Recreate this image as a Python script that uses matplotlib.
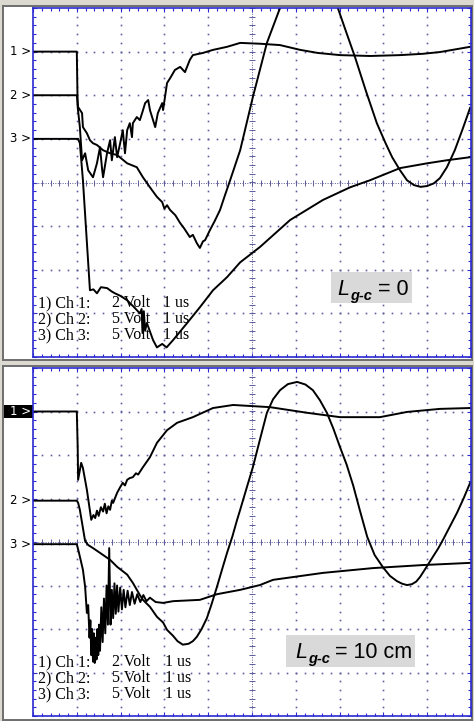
import numpy as np
import matplotlib.pyplot as plt
from matplotlib.patches import Rectangle

# scope traces: (time [us], level [div]); 1 us/div, screen is 10 x 8 div
ch1_top = [(0, 3.0), (1.0, 3.0), (1.02, 1.73), (1.07, 1.27), (1.12, 0.51), (1.19, 0.67), (1.26, 0.28),
           (1.37, 0.12), (1.46, 0.44), (1.53, 0.81), (1.58, 0.28), (1.60, 0.12), (1.69, 0.67), (1.76, 0.97),
           (1.80, 0.51), (1.87, 1.04), (1.92, 0.58), (1.99, 0.90), (2.05, 1.20), (2.10, 0.67), (2.15, 1.20),
           (2.21, 1.36), (2.26, 1.04), (2.28, 1.36), (2.37, 1.50), (2.44, 1.43), (2.50, 1.62), (2.56, 1.82),
           (2.63, 1.89), (2.67, 1.66), (2.79, 1.27), (2.85, 1.59), (2.95, 1.82), (2.97, 1.66), (3.06, 2.28),
           (3.13, 2.39), (3.24, 2.58), (3.36, 2.65), (3.47, 2.53), (3.58, 2.81), (3.65, 2.92), (3.88, 2.97),
           (4.11, 3.04), (4.43, 3.11), (4.73, 3.20), (5.20, 3.18), (5.64, 3.15), (6.10, 3.04), (6.50, 2.97),
           (7.01, 2.92), (7.70, 2.90), (8.38, 2.92), (8.90, 2.95), (9.29, 2.99), (9.98, 3.11)]
ch2_top = [(0, 2.0), (1.0, 2.0), (1.03, 1.73), (1.12, 1.59), (1.14, 1.27), (1.23, 1.13), (1.30, 0.97),
           (1.37, 0.90), (1.46, 0.86), (1.60, 0.74), (1.76, 0.67), (1.92, 0.63), (2.15, 0.44), (2.37, 0.35),
           (2.51, 0.12), (2.67, -0.11), (2.83, -0.33), (2.95, -0.45), (3.0, -0.60), (3.06, -0.52),
           (3.13, -0.63), (3.25, -0.75), (3.36, -0.93), (3.45, -1.05), (3.58, -1.25), (3.65, -1.20),
           (3.74, -1.39), (3.81, -1.50), (3.88, -1.35), (3.93, -1.32), (4.04, -1.09), (4.15, -0.88),
           (4.27, -0.63), (4.38, -0.30), (4.50, 0.05), (4.73, 0.74), (5.02, 1.96), (5.34, 3.20), (5.64, 4.0),
           (5.85, 4.45), (6.05, 4.7), (6.3, 4.78), (6.55, 4.7), (6.78, 4.45), (6.96, 4.0), (7.15, 3.45),
           (7.35, 2.88), (7.60, 2.10), (7.85, 1.36), (8.05, 0.90), (8.20, 0.58), (8.38, 0.28), (8.54, 0.05),
           (8.70, -0.06), (8.85, -0.10), (9.00, -0.08), (9.15, -0.02), (9.29, 0.10), (9.45, 0.35),
           (9.63, 0.74), (9.80, 1.20), (9.98, 1.71)]
ch3_top = [(0, 1.0), (1.03, 1.0), (1.07, 0.9), (1.14, 0.05), (1.30, -2.47), (1.38, -2.45), (1.46, -2.54),
           (1.55, -2.40), (1.69, -2.42), (1.80, -2.50), (1.87, -2.54), (2.0, -2.60), (2.15, -2.70),
           (2.30, -2.85), (2.44, -3.0), (2.48, -2.90), (2.50, -3.45), (2.53, -2.95), (2.56, -3.40),
           (2.60, -3.22), (2.74, -3.61), (2.83, -3.78), (2.95, -3.70), (3.05, -3.78), (3.20, -3.61),
           (3.52, -3.22), (3.81, -2.86), (4.11, -2.47), (4.43, -2.17), (4.73, -1.83), (5.18, -1.48),
           (5.87, -0.86), (6.62, -0.40), (7.24, -0.11), (7.69, 0.05), (8.38, 0.33), (9.0, 0.44),
           (9.45, 0.51), (9.98, 0.58)]

ch1_bot = [(0, 3.0), (1.0, 3.0), (1.02, 2.2), (1.03, 1.43), (1.10, 1.82), (1.14, 1.70), (1.23, 1.20),
           (1.33, 0.51), (1.38, 0.62), (1.42, 0.55), (1.46, 0.72), (1.50, 0.60), (1.55, 0.80), (1.60, 0.70),
           (1.64, 0.88), (1.68, 0.66), (1.72, 0.82), (1.76, 0.74), (1.80, 0.95), (1.83, 0.90), (1.92, 1.13),
           (1.99, 1.26), (2.05, 1.36), (2.10, 1.30), (2.15, 1.43), (2.21, 1.47), (2.28, 1.49), (2.35, 1.58),
           (2.40, 1.55), (2.51, 1.72), (2.67, 1.95), (2.83, 2.28), (3.06, 2.57), (3.29, 2.74), (3.65, 2.87),
           (4.11, 3.08), (4.57, 3.15), (5.41, 3.10), (6.26, 2.97), (7.01, 2.87), (7.92, 2.87), (8.54, 2.99),
           (9.29, 3.06), (9.98, 3.08)]
ch2_bot = [(0, 0.95), (1.0, 0.95), (1.03, 0.90), (1.07, 0.74), (1.19, 0.02), (1.26, -0.07), (1.37, -0.14),
           (1.53, -0.25), (1.76, -0.41), (1.92, -0.57), (2.15, -0.75), (2.28, -0.94), (2.44, -1.22),
           (2.51, -1.33), (2.67, -1.49), (2.83, -1.72), (2.97, -1.85), (3.06, -2.02), (3.20, -2.16),
           (3.30, -2.28), (3.42, -2.36), (3.55, -2.34), (3.65, -2.28), (3.74, -2.18), (3.85, -2.00),
           (3.97, -1.75), (4.08, -1.42), (4.20, -1.03), (4.32, -0.62), (4.43, -0.25), (4.55, 0.12),
           (4.66, 0.51), (4.73, 0.74), (4.88, 1.25), (5.02, 1.72), (5.18, 2.35), (5.34, 2.97), (5.48, 3.28),
           (5.64, 3.49), (5.82, 3.63), (6.03, 3.68), (6.22, 3.62), (6.39, 3.49), (6.55, 3.26), (6.71, 2.97),
           (6.86, 2.60), (7.01, 2.18), (7.16, 1.78), (7.31, 1.30), (7.47, 0.70), (7.63, 0.12), (7.80, -0.30),
           (7.99, -0.58), (8.15, -0.78), (8.31, -0.90), (8.43, -0.96), (8.54, -0.99), (8.65, -0.97),
           (8.75, -0.91), (8.84, -0.80), (8.98, -0.58), (9.13, -0.34), (9.25, -0.15), (9.36, 0.05),
           (9.52, 0.36), (9.68, 0.67), (9.83, 1.00), (9.98, 1.36)]
ch3_bot = [(0, -0.05), (1.0, -0.05), (1.05, -0.25), (1.14, -0.64), (1.19, -1.03), (1.23, -1.63),
           (1.26, -1.45), (1.29, -2.2), (1.31, -1.8), (1.33, -2.6), (1.35, -2.0), (1.37, -2.75), (1.39, -2.1),
           (1.41, -2.78), (1.43, -2.2), (1.45, -2.7), (1.47, -2.0), (1.49, -2.6), (1.51, -1.9), (1.53, -2.5),
           (1.56, -1.5), (1.59, -2.3), (1.62, -1.3), (1.65, -2.1), (1.68, -1.0), (1.71, -1.9), (1.74, -0.14),
           (1.77, -1.9), (1.80, -1.1), (1.83, -1.75), (1.86, -0.95), (1.89, -1.65), (1.92, -1.0), (1.95, -1.6),
           (1.99, -1.05), (2.03, -1.55), (2.07, -1.1), (2.11, -1.5), (2.16, -1.12), (2.21, -1.45), (2.26, -1.15),
           (2.32, -1.42), (2.38, -1.2), (2.45, -1.38), (2.52, -1.22), (2.59, -1.36), (2.67, -1.28),
           (2.80, -1.38), (2.97, -1.40), (3.20, -1.36), (3.81, -1.33), (4.20, -1.20), (4.73, -1.10),
           (5.18, -0.99), (5.48, -0.87), (6.62, -0.71), (7.76, -0.60), (8.90, -0.53), (9.98, -0.48)]

marks_top = [("1", 3.0), ("2", 2.0), ("3", 1.0)]
marks_bot = [("1", 3.0), ("2", 0.95), ("3", -0.05)]
rows = ["1) Ch 1:", "2) Ch 2:", "3) Ch 3:"]
volts = ["2 Volt", "5 Volt", "5 Volt"]
times = ["1 us", "1 us", "1 us"]
gap_labels = ["= 0", "= 10 cm"]

W, H = 474, 721
BLUE = "#2a2ad0"
DOT = "#5c5c9c"


def rect(x0, y0, x1, y1):
    return [x0 / W, 1 - y1 / H, (x1 - x0) / W, (y1 - y0) / H]


def frame(fig, y0, y1):
    a = fig.add_axes(rect(3, y0, 472, y1))
    a.set_xticks([])
    a.set_yticks([])
    for s in a.spines.values():
        s.set_color("#6e6e6e")
        s.set_linewidth(1.4)
    return a


def screen(fig, y0, y1):
    ax = fig.add_axes(rect(33, y0, 471, y1))
    ax.set_xlim(0, 10)
    ax.set_ylim(-4, 4)
    ax.set_xticks(np.arange(0, 11, 1))
    ax.set_yticks(np.arange(-4, 5, 1))
    ax.set_xticks(np.arange(0, 10.01, 0.2), minor=True)
    ax.set_yticks(np.arange(-4, 4.01, 0.2), minor=True)
    ax.tick_params(which="both", direction="in", top=True, right=True,
                   labelbottom=False, labelleft=False, color=BLUE, width=0.8)
    ax.tick_params(which="major", length=3)
    ax.tick_params(which="minor", length=2)
    for s in ax.spines.values():
        s.set_color(BLUE)
        s.set_linewidth(1.2)
    ys = np.arange(-4, 4.01, 0.2)
    xs = np.arange(0, 10.01, 0.2)
    for xi in range(1, 10):
        if xi != 5:
            ax.plot(np.full(len(ys), xi), ys, ls="none", marker="s", ms=1.2, mew=0, color=DOT)
    for yi in range(-3, 4):
        if yi != 0:
            ax.plot(xs, np.full(len(xs), yi), ls="none", marker="s", ms=1.2, mew=0, color=DOT)
    # centre cross with fine ticks
    ax.plot(xs, np.zeros(len(xs)), ls=(0, (1, 1.5)), lw=0.7, color=DOT, marker="|", ms=4, mew=0.7)
    ax.plot(np.full(len(ys), 5), ys, ls=(0, (1, 1.5)), lw=0.7, color=DOT, marker="_", ms=4, mew=0.7)
    return ax


def traces(ax, chans):
    for ch in chans:
        t, v = zip(*ch)
        ax.plot(t, v, color="black", lw=1.4, solid_joinstyle="round")


def markers(ax, marks, highlight=None):
    tr = ax.get_yaxis_transform()
    for n, lvl in marks:
        col = "black"
        if n == highlight:
            ax.add_patch(Rectangle((-0.066, lvl - 0.16), 0.066, 0.32, transform=tr,
                                   facecolor="black", clip_on=False))
            col = "white"
        ax.text(-0.004, lvl, n + " >", transform=tr, ha="right", va="center",
                fontsize=8.5, color=col, clip_on=False)


def scale_text(ax, xt):
    for r, v, t, y in zip(rows, volts, times, [-2.77, -3.13, -3.50]):
        ax.text(0.11, y, r, family="Liberation Serif", fontsize=11.5, va="center")
        ax.text(1.80, y, v, family="Liberation Serif", fontsize=11.5, va="center")
        ax.text(xt, y, t, family="Liberation Serif", fontsize=11.5, va="center")


def gap_label(ax, box, x, y, rest):
    ax.add_patch(Rectangle((box[0], box[1]), box[2] - box[0], box[3] - box[1],
                           facecolor="#d9d9d9", edgecolor="none", zorder=3))
    t1 = ax.text(x, y, "L", family="Liberation Sans", fontstyle="italic", fontsize=15.5,
                 va="baseline", zorder=4)
    t2 = ax.annotate("g-c", xy=(1, 0), xycoords=t1, xytext=(0.5, 0), textcoords="offset points",
                     family="Liberation Sans", fontstyle="italic", fontweight="bold",
                     fontsize=10.5, va="baseline", zorder=4)
    ax.annotate(" " + rest, xy=(1, 0), xycoords=(t2, t1), family="Liberation Sans",
                fontsize=15.5, va="bottom", zorder=4)


fig = plt.figure(figsize=(W / 100, H / 100), dpi=100, facecolor="#dcd9d1")

frame(fig, 6, 360)
frame(fig, 366, 720)

top = screen(fig, 8, 357)
traces(top, [ch1_top, ch2_top, ch3_top])
markers(top, marks_top)
scale_text(top, 2.97)
gap_label(top, (6.80, -2.77, 8.65, -2.06), 6.94, -2.58, gap_labels[0])

bot = screen(fig, 368, 716)
traces(bot, [ch1_bot, ch2_bot, ch3_bot])
markers(bot, marks_bot, highlight="1")
scale_text(bot, 3.02)
gap_label(bot, (5.78, -2.87, 8.72, -2.14), 5.98, -2.67, gap_labels[1])

fig.savefig("out.png", dpi=100, facecolor=fig.get_facecolor())
